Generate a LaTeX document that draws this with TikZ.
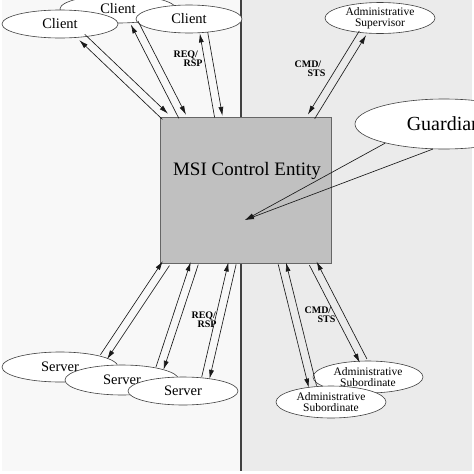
\documentclass[tikz,border=0pt]{standalone}
\usepackage{fontspec}
\setmainfont{Liberation Serif}
\usetikzlibrary{arrows.meta, positioning, calc, shapes.geometric}

\definecolor{leftbg}{HTML}{F8F8F8}
\definecolor{rightbg}{HTML}{EBEBEB}
\definecolor{boxfill}{HTML}{C0C0C0}

% pair of opposite arrows between two points
\newcommand{\twoway}[3][4pt]{%
  \draw[arrow] ($(#2)!#1!90:(#3)$) -- ($(#3)!#1!-90:(#2)$);
  \draw[arrow] ($(#3)!#1!90:(#2)$) -- ($(#2)!#1!-90:(#3)$);
}

\begin{document}
\begin{tikzpicture}[
  x=1pt, y=-1pt,
  client/.style = {ellipse, draw=black!75, fill=white, line width=0.6pt, inner sep=0pt,
                   minimum width=116pt, minimum height=28pt, font=\fontsize{14.5}{16}\selectfont},
  admin/.style  = {ellipse, draw=black!75, fill=white, line width=0.6pt, inner sep=0pt,
                   minimum width=110pt, minimum height=31pt, align=center,
                   font=\fontsize{11.5}{10.5}\selectfont},
  arrow/.style  = {draw=black!90, line width=0.65pt, -{Latex[length=9pt, width=5pt]}},
  tag/.style    = {font=\fontsize{10}{9}\bfseries\selectfont, align=left, inner sep=0pt}
]
  \useasboundingbox (0,0) rectangle (474,474);
  \clip (0,0) rectangle (474,474);

  % the two domains
  \fill[leftbg] (2,0) rectangle (241,471);
  \fill[rightbg] (241,0) rectangle (472,471);
  \draw[black!75, line width=1.2pt] (241,0) -- (241,471);

  % control entity
  \node[draw=black!60, fill=boxfill, line width=0.8pt,
        minimum width=171pt, minimum height=146pt] (box) at (246,190) {};
  \node[font=\fontsize{19}{22}\selectfont] (msi) at (247,171) {MSI Control Entity};

  % clients
  \node[client] (c2) at (118,9) {Client};
  \node[client] (c1) at (60,24) {Client};
  \node[client, minimum width=106pt] (c3) at (189,19) {Client};

  % supervisor and guardian
  \node[admin] (sup) at (380,18) {Administrative\\Supervisor};
  \node[ellipse, draw=black!75, fill=white, line width=0.6pt, minimum width=178pt,
        minimum height=50pt, font=\fontsize{20}{24}\selectfont] (guard) at (444,124) {Guardian};

  % servers
  \node[client, minimum height=30pt] (s1) at (60,367) {Server};
  \node[client, minimum width=114pt, minimum height=30pt] (s2) at (122,380) {Server};
  \node[client, minimum width=110pt] (s3) at (183,391) {Server};

  % subordinates
  \node[admin, minimum height=32pt] (subA) at (368,377) {Administrative\\Subordinate};
  \node[admin, minimum height=32pt] (subB) at (331,402) {Administrative\\Subordinate};

  % attachment points on the box
  \coordinate (bt1) at ($(box.north west)!.03!(box.north east)$);
  \coordinate (bt2) at ($(box.north west)!.13!(box.north east)$);
  \coordinate (bt3) at ($(box.north west)!.34!(box.north east)$);
  \coordinate (bt4) at ($(box.north west)!.88!(box.north east)$);
  \coordinate (bb1) at ($(box.south west)!.035!(box.south east)$);
  \coordinate (bb2) at ($(box.south west)!.20!(box.south east)$);
  \coordinate (bb3) at ($(box.south west)!.42!(box.south east)$);
  \coordinate (bb4) at ($(box.south west)!.71!(box.south east)$);
  \coordinate (bb5) at ($(box.south west)!.89!(box.south east)$);
  \coordinate (gin) at ($(box.center)+(-1,30)$);

  % requests and responses
  \twoway{bt1}{c1.-31}
  \twoway{bt2}{c2.-40}
  \twoway{bt3}{c3.-43}
  \twoway{bb1}{s1.13}
  \twoway{bb2}{s2.17}
  \twoway{bb3}{s3.30}

  % commands and status
  \twoway[-4pt]{bt4}{sup.-139}
  \twoway[-4pt]{bb4}{subB.140}
  \twoway[-4pt]{bb5}{subA.106}

  \draw[arrow] (guard.-162) -- (gin);
  \draw[arrow] (guard.-114) -- (gin);

  % labels
  \node[tag] (req1) at (188,59) {REQ/\\\hspace*{1em}RSP};
  \node[tag] (cmd1) at (310,69) {CMD/\\\hspace*{1.3em}STS};
  \node[tag] (req2) at (204,320) {REQ/\\\hspace*{0.6em}RSP};
  \node[tag] (cmd2) at (320,315) {CMD/\\\hspace*{1.3em}STS};
\end{tikzpicture}
\end{document}
